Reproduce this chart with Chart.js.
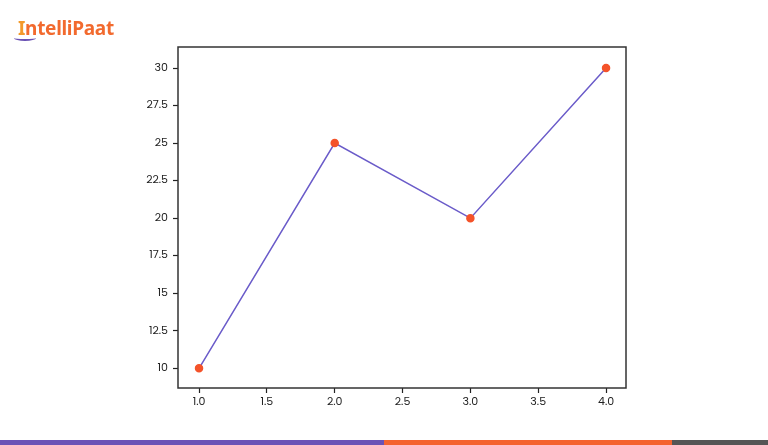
<!DOCTYPE html>
<html>
<head>
<meta charset="utf-8">
<script src="https://cdn.jsdelivr.net/npm/chart.js@4/dist/chart.umd.min.js"></script>
<style>
  html, body { margin: 0; padding: 0; background: #fff; }
  #wrap { position: relative; width: 768px; height: 445px; overflow: hidden; }
  #chart { position: absolute; left: 0; top: 0; }
  #logo { position: absolute; left: 18px; top: 15px; font-family: "Noto Sans", sans-serif; font-weight: 700; font-size: 19px; color: #f26a2e; letter-spacing: -0.3px; }
  #logo .i { color: #f39a2b; }
  #swoosh { position: absolute; left: 14px; top: 35px; width: 22px; height: 4px; border-radius: 50%; border-bottom: 2px solid #6a52b4; }
  .bar { position: absolute; top: 440px; height: 5px; }
</style>
</head>
<body>
<div id="wrap">
  <canvas id="chart" width="768" height="445"></canvas>
  <div id="logo"><span class="i">I</span>ntelliPaat</div>
  <div id="swoosh"></div>
  <div class="bar" style="left:0;width:384px;background:#6b52b6"></div>
  <div class="bar" style="left:384px;width:288px;background:#f4632f"></div>
  <div class="bar" style="left:672px;width:96px;background:#555"></div>
</div>
<script>
// 数据
const xValues = [1, 2, 3, 4];
const yValues = [10, 25, 20, 30];
const xTicks = [1.0, 1.5, 2.0, 2.5, 3.0, 3.5, 4.0];
const yTicks = [10, 12.5, 15, 17.5, 20, 22.5, 25, 27.5, 30];

// 坐标框
const boxPlugin = {
    id: 'box',
    afterDraw(chart) {
        const a = chart.chartArea;
        const ctx = chart.ctx;
        ctx.save();
        ctx.strokeStyle = '#333';
        ctx.lineWidth = 1.5;
        ctx.strokeRect(a.left, a.top, a.right - a.left, a.bottom - a.top);
        ctx.restore();
    }
};

const tickFont = { family: 'Poppins, "Open Sans", sans-serif', size: 11 };

new Chart(document.getElementById('chart').getContext('2d'), {
    type: 'line',
    data: {
        datasets: [{
            data: xValues.map((x, i) => ({ x: x, y: yValues[i] })),
            borderColor: '#6a5bc9',
            borderWidth: 1.5,
            pointBackgroundColor: '#f4532a',
            pointBorderColor: '#f4532a',
            pointRadius: 3.5,
            tension: 0
        }]
    },
    options: {
        responsive: false,
        animation: false,
        layout: { padding: { left: 0, top: 47, right: 142, bottom: 0 } },
        plugins: { legend: { display: false }, tooltip: { enabled: false } },
        scales: {
            x: {
                type: 'linear',
                min: 0.845,
                max: 4.147,
                afterBuildTicks: s => { s.ticks = xTicks.map(v => ({ value: v })); },
                afterFit: s => { s.height = 57; },
                grid: { drawOnChartArea: false, tickLength: 5, tickColor: '#222', tickWidth: 1.2 },
                border: { display: false },
                ticks: { color: '#222', font: tickFont, padding: 3, callback: v => Number(v).toFixed(1) }
            },
            y: {
                type: 'linear',
                min: 8.69,
                max: 31.4,
                afterBuildTicks: s => { s.ticks = yTicks.map(v => ({ value: v })); },
                afterFit: s => { s.width = 178; },
                grid: { drawOnChartArea: false, tickLength: 5, tickColor: '#222', tickWidth: 1.2 },
                border: { display: false },
                ticks: { color: '#222', font: tickFont, padding: 5, callback: v => String(v) }
            }
        }
    },
    plugins: [boxPlugin]
});
</script>
</body>
</html>
